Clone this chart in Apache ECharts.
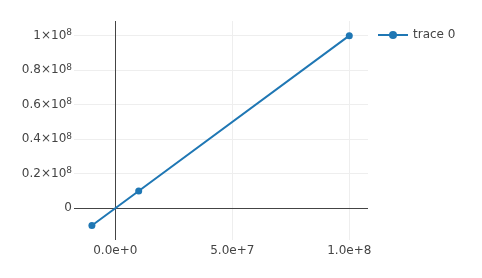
<!DOCTYPE html>
<html>
<head>
<meta charset="utf-8">
<script src="https://cdn.jsdelivr.net/npm/echarts@6/dist/echarts.min.js"></script>
<style>html,body{margin:0;padding:0;background:#fff;}#c{width:482px;height:278px;}</style>
</head>
<body>
<div id="c"></div>
<script>
var seriesName = 'trace 0';
var xValues = [-1e7, 1e7, 1e8];
var yValues = [-1e7, 1e7, 1e8];
var xTicks = [0, 5e7, 1e8];
var yTicks = [0, 2e7, 4e7, 6e7, 8e7, 1e8];

var chart = echarts.init(document.getElementById('c'), null, {renderer: 'canvas'});
var font = '"DejaVu Sans", verdana, arial, sans-serif';
var data = xValues.map(function (x, i) { return [x, yValues[i]]; });

chart.setOption({
  animation: false,
  backgroundColor: '#fff',
  textStyle: {fontFamily: font},
  grid: {left: 74, right: 114, top: 21, bottom: 38, containLabel: false},
  legend: {
    left: 377, top: 29, padding: 0,
    itemWidth: 30, itemHeight: 10, itemGap: 10,
    textStyle: {fontFamily: font, fontSize: 12, color: '#444'},
    data: [seriesName]
  },
  xAxis: {
    type: 'value', min: -1.765e7, max: 1.08e8,
    axisLine: {show: false, onZero: false},
    axisTick: {show: false, customValues: xTicks},
    splitLine: {show: true, lineStyle: {color: '#eee', width: 1}},
    axisLabel: {
      customValues: xTicks, margin: 5,
      color: '#444', fontSize: 12, fontFamily: font,
      formatter: function (v) { return Number(v).toExponential(1); }
    }
  },
  yAxis: {
    type: 'value', min: -1.84e7, max: 1.085e8,
    axisLine: {show: false, onZero: false},
    axisTick: {show: false, customValues: yTicks},
    splitLine: {show: true, lineStyle: {color: '#eee', width: 1}},
    axisLabel: {
      customValues: yTicks, margin: 2,
      color: '#444', fontSize: 12, fontFamily: font,
      formatter: function (v) {
        if (v === 0) return '{a|0}';
        var m = Math.round(v / 1e7) / 10;
        return '{a|' + m + '×10}{s|8}';
      },
      rich: {
        a: {color: '#444', fontSize: 12, fontFamily: font},
        s: {color: '#444', fontSize: 9, fontFamily: font, verticalAlign: 'top', padding: [0, 0, 6, 0]}
      }
    }
  },
  series: [{
    name: seriesName,
    type: 'line',
    data: data,
    symbol: 'circle',
    symbolSize: 7,
    itemStyle: {color: '#1f77b4'},
    lineStyle: {color: '#1f77b4', width: 2},
    z: 3,
    markLine: {
      silent: true, symbol: 'none', animation: false,
      label: {show: false},
      lineStyle: {color: '#444', width: 1, type: 'solid'},
      data: [{xAxis: 0}, {yAxis: 0}],
      z: 2
    }
  }]
});
</script>
</body>
</html>
